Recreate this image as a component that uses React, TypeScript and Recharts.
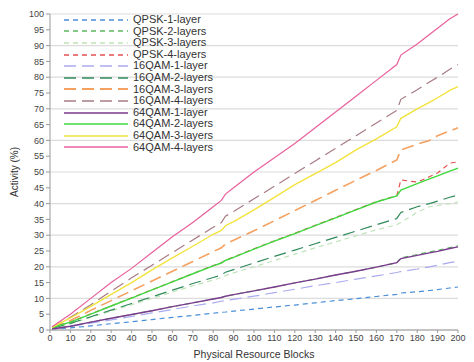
import { LineChart, Line, XAxis, YAxis, CartesianGrid, Legend } from "recharts";

const FONT = "'Liberation Sans', Arial, Helvetica, sans-serif";

// physical resource blocks where values were read
const prbs = [1, 10, 20, 30, 40, 50, 60, 70, 80, 84, 86, 90, 100, 110, 120, 130, 140, 150, 160, 170, 172, 180, 186, 190, 196, 200];

const qpsk1 = [0.3, 0.7, 1.3, 2, 2.6, 3.3, 4, 4.6, 5.3, 5.6, 5.7, 6, 6.6, 7.3, 7.9, 8.6, 9.3, 9.9, 10.6, 11.3, 11.7, 12.1, 12.5, 12.8, 13.3, 13.6];
const qpsk2 = [0.3, 1.2, 2.5, 3.7, 4.9, 6.1, 7.4, 8.6, 9.8, 10.3, 10.7, 11.2, 12.4, 13.6, 14.9, 16.1, 17.4, 18.6, 19.9, 21.3, 22.8, 23.9, 24.7, 25.2, 26.1, 26.6];
const qpsk3 = [0.5, 2, 4, 6, 8, 10, 12, 14, 15.8, 16.6, 17.2, 18.1, 20, 22, 24, 26, 27.9, 29.8, 31.7, 33.3, 34, 37.3, 39, 39.4, 40, 40.5];
const qpsk4 = [0.8, 2.5, 5.1, 7.6, 10.2, 12.7, 15.3, 17.8, 20.4, 21.3, 22.1, 23.1, 25.7, 28.2, 30.6, 33.1, 35.6, 38.1, 40.6, 42.5, 47.5, 46.8, 48.5, 49.7, 52.8, 53.2];
const qam16_1 = [0.3, 1.1, 2.2, 3.2, 4.3, 5.4, 6.5, 7.6, 8.6, 9.1, 9.3, 9.7, 10.7, 11.8, 12.9, 14, 15, 16.1, 17.1, 18.2, 18.5, 19.3, 20, 20.5, 21.3, 21.8];
const qam16_2 = [0.5, 2.1, 4.2, 6.3, 8.4, 10.5, 12.6, 14.7, 16.6, 17.4, 18.3, 19.1, 21.2, 23.3, 25.3, 27.3, 29.3, 31.3, 33.3, 35.3, 37.2, 39, 40, 40.8, 42, 42.7];
const qam16_3 = [0.8, 3, 6.2, 9.3, 12.4, 15.5, 18.6, 21.7, 24.8, 26, 27.2, 28.4, 31.4, 34.6, 37.8, 41, 44.2, 47.4, 50.5, 53.8, 57, 58.8, 60, 61.5, 63, 64];
const qam16_4 = [0.8, 4, 8, 12.3, 16.5, 20.5, 24.5, 28.5, 32.5, 34, 36, 37.5, 41.5, 45.5, 49.5, 53.5, 57.5, 61.5, 65.5, 69.5, 73, 76, 78.5, 80, 82.5, 84];
const qam64_1 = [0.3, 1.2, 2.5, 3.7, 4.9, 6.1, 7.4, 8.6, 9.8, 10.3, 10.7, 11.2, 12.4, 13.6, 14.9, 16.1, 17.4, 18.6, 19.9, 21.3, 22.6, 23.6, 24.4, 24.9, 25.8, 26.3];
const qam64_2 = [0.8, 2.5, 5, 7.6, 10.1, 12.7, 15.2, 17.8, 20.3, 21.2, 22, 23, 25.6, 28.1, 30.5, 33, 35.5, 38, 40.5, 42.4, 44.3, 46.3, 47.8, 48.8, 50.3, 51.2];
const qam64_3 = [0.8, 3.8, 7.5, 11.3, 15, 19, 22.8, 26.5, 30.3, 31.5, 33, 34.3, 38, 42, 46, 49.5, 53, 57, 60.5, 64.3, 67, 70, 72, 73.5, 75.8, 77];
const qam64_4 = [1, 5, 10, 15, 19.5, 24.5, 29.5, 34, 39, 41, 43, 45, 50, 54.5, 59, 64, 69, 74, 79, 84, 87, 90.5, 93.5, 95.5, 98.5, 100];

const xTicks = [0, 10, 20, 30, 40, 50, 60, 70, 80, 90, 100, 110, 120, 130, 140, 150, 160, 170, 180, 190, 200];
const yTicks = [0, 5, 10, 15, 20, 25, 30, 35, 40, 45, 50, 55, 60, 65, 70, 75, 80, 85, 90, 95, 100];

const series = [
  { key: "QPSK-1-layer", values: qpsk1, color: "#4a8fd6", dash: "5 4", width: 1.2 },
  { key: "QPSK-2-layers", values: qpsk2, color: "#5cb860", dash: "5 4", width: 1.2 },
  { key: "QPSK-3-layers", values: qpsk3, color: "#bfe3b8", dash: "5 4", width: 1.2 },
  { key: "QPSK-4-layers", values: qpsk4, color: "#e2504f", dash: "5 4", width: 1.2 },
  { key: "16QAM-1-layer", values: qam16_1, color: "#aaaaee", dash: "12 6", width: 1.2 },
  { key: "16QAM-2-layers", values: qam16_2, color: "#2f8a5a", dash: "12 6", width: 1.2 },
  { key: "16QAM-3-layers", values: qam16_3, color: "#f4a060", dash: "12 6", width: 1.6 },
  { key: "16QAM-4-layers", values: qam16_4, color: "#a87c84", dash: "12 6", width: 1.2 },
  { key: "64QAM-1-layer", values: qam64_1, color: "#7a3a8e", dash: undefined, width: 1.4 },
  { key: "64QAM-2-layers", values: qam64_2, color: "#3fd93f", dash: undefined, width: 1.4 },
  { key: "64QAM-3-layers", values: qam64_3, color: "#f2e33c", dash: undefined, width: 1.4 },
  { key: "64QAM-4-layers", values: qam64_4, color: "#e8609c", dash: undefined, width: 1.2 },
];

const data = prbs.map((x, i) => {
  const row: Record<string, number> = { x };
  series.forEach((s) => {
    row[s.key] = s.values[i];
  });
  return row;
});

function LegendBox() {
  return (
    <div style={{ fontFamily: FONT, fontSize: 11, color: "#333", lineHeight: "11.6px" }}>
      {series.map((s) => (
        <div key={s.key} style={{ display: "flex", alignItems: "center", height: 11.6 }}>
          <svg width={66} height={8} style={{ marginRight: 3 }}>
            <line
              x1={0}
              y1={4}
              x2={64}
              y2={4}
              stroke={s.color}
              strokeWidth={s.width + 0.3}
              strokeDasharray={s.dash}
            />
          </svg>
          <span>{s.key}</span>
        </div>
      ))}
    </div>
  );
}

export default function App() {
  return (
    <div style={{ position: "absolute", left: 0, top: 0, background: "#fff" }}>
      <LineChart
        width={474}
        height={362}
        data={data}
        margin={{ top: 14, right: 16, bottom: 0, left: 0 }}
      >
        <CartesianGrid stroke="#dcdcdc" strokeWidth={1.2} vertical={false} />
        <XAxis
          dataKey="x"
          type="number"
          domain={[0, 200]}
          ticks={xTicks}
          height={32}
          tick={{ fontSize: 9, fill: "#444", fontFamily: FONT }}
          tickSize={3}
          stroke="#999"
          label={{
            value: "Physical Resource Blocks",
            position: "insideBottom",
            offset: 4,
            style: { fontSize: 10.5, fill: "#333", fontFamily: FONT },
          }}
        />
        <YAxis
          type="number"
          domain={[0, 100]}
          ticks={yTicks}
          width={50}
          tick={{ fontSize: 9, fill: "#444", fontFamily: FONT }}
          tickSize={4}
          stroke="#999"
          label={{
            value: "Activity (%)",
            angle: -90,
            position: "insideLeft",
            offset: 14,
            style: { fontSize: 10, fill: "#333", fontFamily: FONT, textAnchor: "middle" },
          }}
        />
        <Legend
          layout="vertical"
          align="center"
          verticalAlign="middle"
          content={<LegendBox />}
          wrapperStyle={{ left: 64, top: 14, width: 200 }}
        />
        {series.map((s) => (
          <Line
            key={s.key}
            dataKey={s.key}
            stroke={s.color}
            strokeWidth={s.width}
            strokeDasharray={s.dash}
            dot={false}
            activeDot={false}
            isAnimationActive={false}
          />
        ))}
      </LineChart>
    </div>
  );
}
